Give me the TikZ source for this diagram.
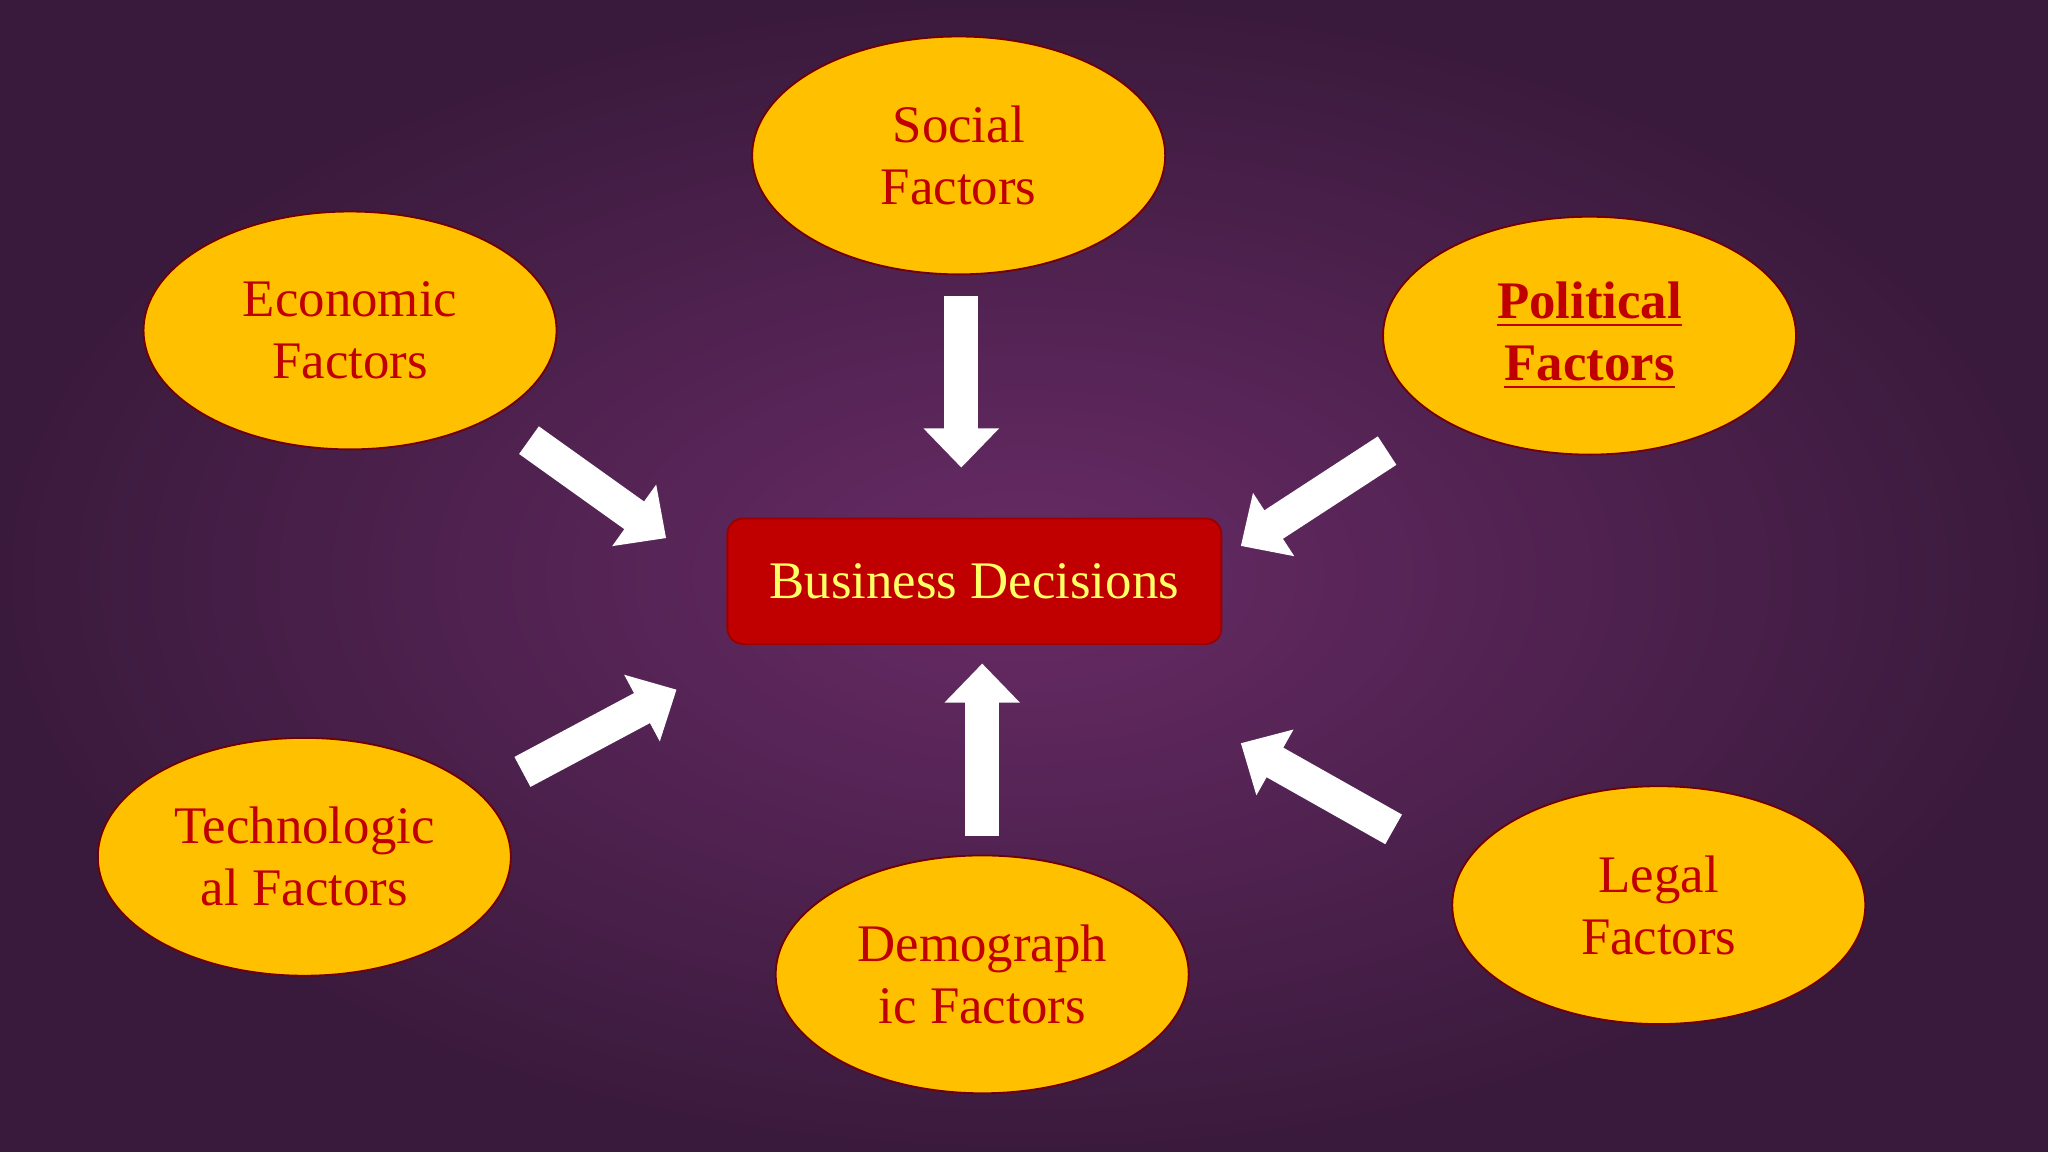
\documentclass[tikz,border=0pt]{standalone}
\usepackage{fontspec}
\setmainfont{Liberation Serif}
\usetikzlibrary{arrows.meta,shapes.geometric}
\definecolor{gold}{HTML}{FFC000}
\definecolor{dred}{HTML}{C00000}
\definecolor{bgin}{HTML}{682B66}
\definecolor{bgout}{HTML}{3A1A3C}
\definecolor{ytext}{HTML}{FFFF66}
\tikzset{
  factor/.style={ellipse, fill=gold, draw=dred!60!black, line width=0.4pt, minimum width=3.16cm, minimum height=1.82cm, inner sep=0pt, align=center, text=dred, font=\fontsize{11.5}{13.5}\selectfont},
  bigarrow/.style={draw=white, line width=0.26cm, -{Triangle[width=0.56cm,length=0.3cm]}},
}
\begin{document}
\begin{tikzpicture}[x=0.01cm,y=-0.01cm]
\useasboundingbox (0,0) rectangle (1568,882);
\shade[inner color=bgin, outer color=bgout] (0,0) rectangle (1568,882);
\node[factor] (soc) at (734,119) {Social\\Factors};
\node[factor] (eco) at (268,253) {Economic\\Factors};
\node[factor] (pol) at (1217,257) {\textbf{\underline{Political}}\\\textbf{\underline{Factors}}};
\node[factor] (tec) at (233,656) {Technologic\\al Factors};
\node[factor] (dem) at (752,746) {Demograph\\ic Factors};
\node[factor] (leg) at (1270,693) {Legal\\Factors};
\node[draw=dred!80!black, fill=dred, rounded corners=0.12cm, minimum width=3.78cm, minimum height=0.96cm, text=ytext, font=\fontsize{11.5}{14}\selectfont] (bd) at (746,445) {Business Decisions};
\coordinate (a1s) at (736,227); \coordinate (a1e) at (736,358);
\coordinate (a2s) at (405,337); \coordinate (a2e) at (510,412);
\coordinate (a3s) at (1062,345); \coordinate (a3e) at (950,418);
\coordinate (a4s) at (400,591); \coordinate (a4e) at (518,528);
\coordinate (a5s) at (752,640); \coordinate (a5e) at (752,508);
\coordinate (a6s) at (1067,635); \coordinate (a6e) at (950,569);
\draw[bigarrow] (a1s) -- (a1e);
\draw[bigarrow] (a2s) -- (a2e);
\draw[bigarrow] (a3s) -- (a3e);
\draw[bigarrow] (a4s) -- (a4e);
\draw[bigarrow] (a5s) -- (a5e);
\draw[bigarrow] (a6s) -- (a6e);
\end{tikzpicture}
\end{document}
